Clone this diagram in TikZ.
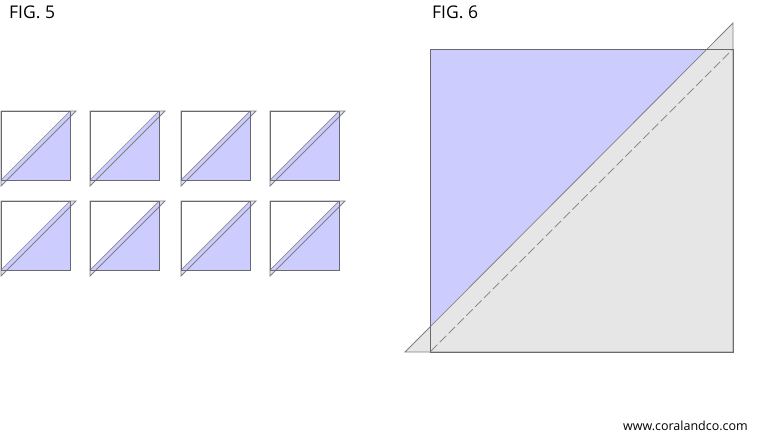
\documentclass[tikz,border=0pt]{standalone}
\usepackage{fontspec}
\setmainfont{Open Sans}
\usepackage{tikz}

\definecolor{patchblue}{RGB}{204,204,255}
\definecolor{patchgray}{RGB}{230,230,230}
\definecolor{edgegray}{RGB}{128,128,128}
\definecolor{squaregray}{RGB}{105,105,110}

\begin{document}
\begin{tikzpicture}[x=1pt,y=-1pt,line join=miter]
    \tikzstyle{every node}+=[inner sep=0pt]
    \useasboundingbox (0,0) rectangle (768,434);
    % fig 5: eight small units
    \foreach \x in {1,90,181,270} {
      \foreach \y in {111,201} {
        \fill [patchblue] (\x,\y+69) -- (\x+69,\y+69) -- (\x+69,\y) -- cycle;
        \fill [patchblue!60] (\x+69,\y) -- (\x+75,\y) -- (\x+69,\y+6) -- cycle;
        \fill [patchblue!60] (\x,\y+69) -- (\x,\y+75) -- (\x+6,\y+69) -- cycle;
        \draw [edgegray,line width=0.8pt] (\x,\y) -- (\x+75,\y) -- (\x,\y+75) -- cycle;
        \draw [squaregray!80,line width=0.7pt] (\x,\y+69) -- (\x+69,\y);
        \draw [squaregray,line width=0.8pt] (\x,\y) rectangle (\x+69,\y+69);
      }
    }
    % fig 6
    \fill [patchgray] (733,23) -- (733,352) -- (405,352) -- cycle;
    \fill [patchblue] (430,49) -- (707,49) -- (430,326) -- cycle;
    \draw [edgegray,line width=0.8pt] (733,23) -- (733,352) -- (405,352) -- cycle;
    \draw [squaregray,line width=0.8pt] (430,49) rectangle (733,352);
    \draw [edgegray!90,line width=1pt,dash pattern=on 9pt off 3.5pt] (431,351) -- (732,50);
    % labels
    \node [anchor=base west,font=\fontsize{17.5}{19}\selectfont] (fig5) at (9,18) {FIG. 5};
    \node [anchor=base west,font=\fontsize{17.5}{19}\selectfont] (fig6) at (432,18) {FIG. 6};
    \node [anchor=base east,font=\fontsize{12.5}{14}\selectfont] (web) at (748,430) {www.coralandco.com};
\end{tikzpicture}
\end{document}
